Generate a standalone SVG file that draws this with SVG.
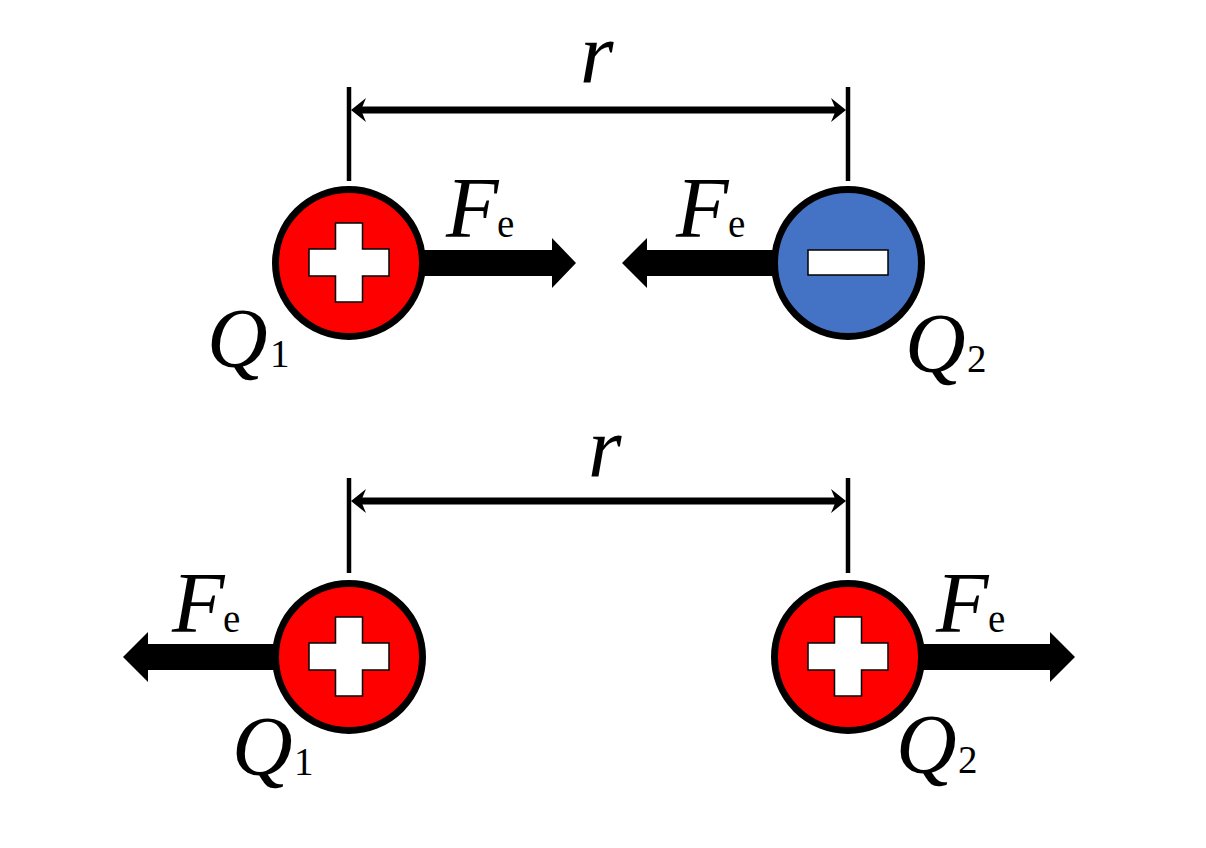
<svg xmlns="http://www.w3.org/2000/svg" width="1206" height="848" viewBox="0 0 1206 848">
<style>
.var{font-family:"Liberation Serif","Times New Roman",serif;font-style:italic;font-size:86px;fill:#000}
.q{font-size:84px}
.sub{font-family:"Liberation Serif","Times New Roman",serif;font-size:39px;fill:#000}
.ext{stroke:#000;stroke-width:4.5;fill:none}
.dim{stroke:#000;stroke-width:7;fill:none}
.force{fill:#000}
.pos{fill:#ff0000;stroke:#000;stroke-width:7}
.neg{fill:#4472c4;stroke:#000;stroke-width:7}
.sign{fill:#fff;stroke:#000;stroke-width:1.5}
</style>
<defs>
<path id="ahR" d="M0,0 L-15,-12 L-10,0 L-15,12 Z"/>
<path id="cross" d="M-13.5,-40 H13.5 V-14 H40 V13 H13.5 V39 H-13.5 V13 H-40 V-14 H-13.5 Z"/>
</defs>
<rect width="1206" height="848" fill="#fff"/>
<g id="connectors">
  <line class="ext" x1="349" y1="87" x2="349" y2="181"/>
  <line class="ext" x1="848" y1="87" x2="848" y2="181"/>
  <line class="dim" x1="358" y1="110" x2="840" y2="110"/>
  <use href="#ahR" transform="translate(351,110) rotate(180)"/>
  <use href="#ahR" transform="translate(846,110)"/>
  <line class="ext" x1="349" y1="478" x2="349" y2="573"/>
  <line class="ext" x1="848" y1="478" x2="848" y2="573"/>
  <line class="dim" x1="358" y1="501" x2="840" y2="501"/>
  <use href="#ahR" transform="translate(351,501) rotate(180)"/>
  <use href="#ahR" transform="translate(846,501)"/>
  <path class="force" d="M400,250 H552 V238 L576,263 L552,288 V276 H400 Z"/>
  <path class="force" d="M800,250 H647 V238 L622,263 L647,288 V276 H800 Z"/>
  <path class="force" d="M300,644 H148 V632 L123,657 L148,682 V670 H300 Z"/>
  <path class="force" d="M900,644 H1050 V632 L1075,657 L1050,682 V670 H900 Z"/>
</g>
<g id="q1-top">
  <circle class="pos" cx="349" cy="263" r="73.5"/>
  <use class="sign" href="#cross" transform="translate(349,263)"/>
  <text class="var q" x="207" y="367">Q</text>
  <text class="sub" x="270" y="367">1</text>
</g>
<g id="q2-top">
  <circle class="neg" cx="848" cy="263" r="73.5"/>
  <rect class="sign" x="808" y="250" width="80" height="25"/>
  <text class="var q" x="905" y="372">Q</text>
  <text class="sub" x="967" y="372">2</text>
</g>
<g id="q1-bottom">
  <circle class="pos" cx="349" cy="657" r="73.5"/>
  <use class="sign" href="#cross" transform="translate(349,657)"/>
  <text class="var q" x="232" y="775">Q</text>
  <text class="sub" x="294" y="775">1</text>
</g>
<g id="q2-bottom">
  <circle class="pos" cx="848" cy="657" r="73.5"/>
  <use class="sign" href="#cross" transform="translate(848,657)"/>
  <text class="var q" x="896" y="773">Q</text>
  <text class="sub" x="958" y="773">2</text>
</g>
<g id="labels">
  <text class="var" x="580" y="83">r</text>
  <text class="var" x="588" y="477">r</text>
  <text class="var" x="446" y="237">F</text><text class="sub" x="497" y="237">e</text>
  <text class="var" x="676" y="237">F</text><text class="sub" x="728" y="237">e</text>
  <text class="var" x="172" y="632">F</text><text class="sub" x="223" y="632">e</text>
  <text class="var" x="936" y="632">F</text><text class="sub" x="988" y="632">e</text>
</g>
</svg>
